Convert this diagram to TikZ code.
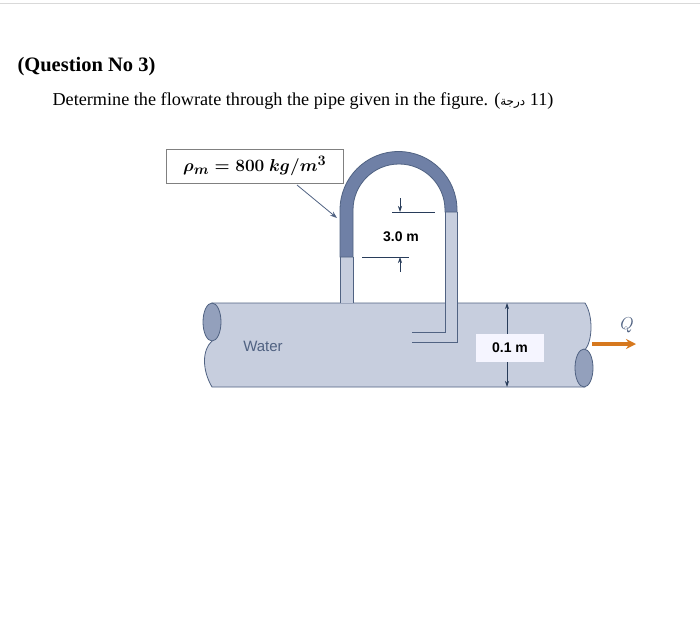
\documentclass[tikz,border=0pt]{standalone}
\usepackage{amsmath}
\usepackage{fontspec}
\setmainfont{Liberation Serif}
\newfontfamily\arabicfont[Script=Arabic]{DejaVu Sans}
\newfontfamily\sansf{Liberation Sans}
\TeXXeTstate=1
\usetikzlibrary{arrows.meta}
\definecolor{pipe}{RGB}{199,206,222}
\definecolor{fluid}{RGB}{111,128,166}
\definecolor{edge}{RGB}{80,98,130}
\definecolor{dimc}{RGB}{40,60,90}
\definecolor{qc}{RGB}{214,120,30}
\tikzset{outl/.style={draw=edge,line width=0.8pt},
dimline/.style={draw=dimc,line width=0.7pt},
dimarr/.style={dimc,line width=0.7pt,-{Stealth[length=6pt,width=4pt]}}}
\begin{document}
\begin{tikzpicture}[x=1pt,y=-1pt]
\useasboundingbox (0,0) rectangle (700,621);
\draw[gray!30,line width=1pt] (0,3) -- (700,3);
\node[anchor=west,font=\bfseries\fontsize{20.5}{22}\selectfont] (title) at (14,67) {(Question No 3)};
\node[anchor=west,font=\fontsize{18.2}{20}\selectfont] (q) at (49,101) {Determine the flowrate through the pipe given in the figure. ({\arabicfont\fontsize{12}{14}\selectfont\beginR درجة\endR} 11)};
% pipe body
\path[fill=pipe,outl] (212,303) -- (585,303) .. controls (593,315) and (593,340) .. (585,350) -- (585,387) -- (212,387)
  .. controls (202,370) and (202,350) .. (212,341) -- cycle;
\path[fill=fluid!75,outl] (212,322) ellipse[x radius=9,y radius=19];
\path[fill=fluid!75,outl] (584,368) ellipse[x radius=9,y radius=19];
% manometer tubes: light fill
\path[fill=pipe] (340,303) -- (340,257) -- (353,257) -- (353,303) -- cycle;
\path[fill=pipe] (445,212) -- (457,212) -- (457,342) -- (412,342) -- (412,332) -- (445,332) -- cycle;
% dark fluid
\path[fill=fluid,outl] (340,257) -- (340,210) arc[start angle=180,end angle=360,radius=58.5] -- (457,212) -- (445,212) -- (445,210) arc[start angle=360,end angle=180,radius=46] -- (353,257) -- cycle;
% tube outlines
\draw[outl] (340,303) -- (340,257) (353,303) -- (353,257);
\draw[outl] (457,212) -- (457,342) -- (412,342);
\draw[outl] (445,212) -- (445,332) -- (412,332);
% 3.0 m dimension
\coordinate (t1) at (392,212); \coordinate (t2) at (435,212);
\coordinate (b1) at (362,257); \coordinate (b2) at (409,257);
\draw[dimline] (t1) -- (t2); \draw[dimline] (b1) -- (b2);
\coordinate (ta) at (400,198); \coordinate (tb) at (400,212);
\coordinate (ba) at (400,272); \coordinate (bb) at (400,257);
\draw[dimarr] (ta) -- (tb); \draw[dimarr] (ba) -- (bb);
\node[font=\sansf\bfseries\fontsize{14}{16}\selectfont] (h) at (401,237) {3.0 m};
% 0.1 m
\coordinate (d0) at (507,347);
\coordinate (dt) at (507,303); \coordinate (db) at (507,387);
\draw[dimarr] (d0) -- (dt); \draw[dimarr] (d0) -- (db);
\node[fill=blue!4!white,font=\sansf\bfseries\fontsize{14}{16}\selectfont,minimum width=68,minimum height=28] (d) at (510,348) {0.1 m};
\node[text=edge,font=\sansf\fontsize{15}{17}\selectfont] (w) at (263,346) {Water};
% Q
\coordinate (q0) at (592,344); \coordinate (q1) at (636,344);
\draw[qc,line width=3.5pt,-{Stealth[length=10pt,width=10pt]}] (q0) -- (q1);
\node[font=\fontsize{16}{18}\selectfont,text=edge] (Q) at (627,325) {$Q$};
% label box
\node[draw=gray,fill=white,anchor=north west,minimum width=177,minimum height=34,font=\fontsize{19}{21}\selectfont\boldmath] (lab) at (166,149) {$\rho_m = 800\ kg/m^3$};
\coordinate (lt) at (337,218);
\draw[edge,line width=0.8pt,-{Stealth[length=7pt,width=5pt]}] (297,185) -- (lt);
\end{tikzpicture}
\end{document}
